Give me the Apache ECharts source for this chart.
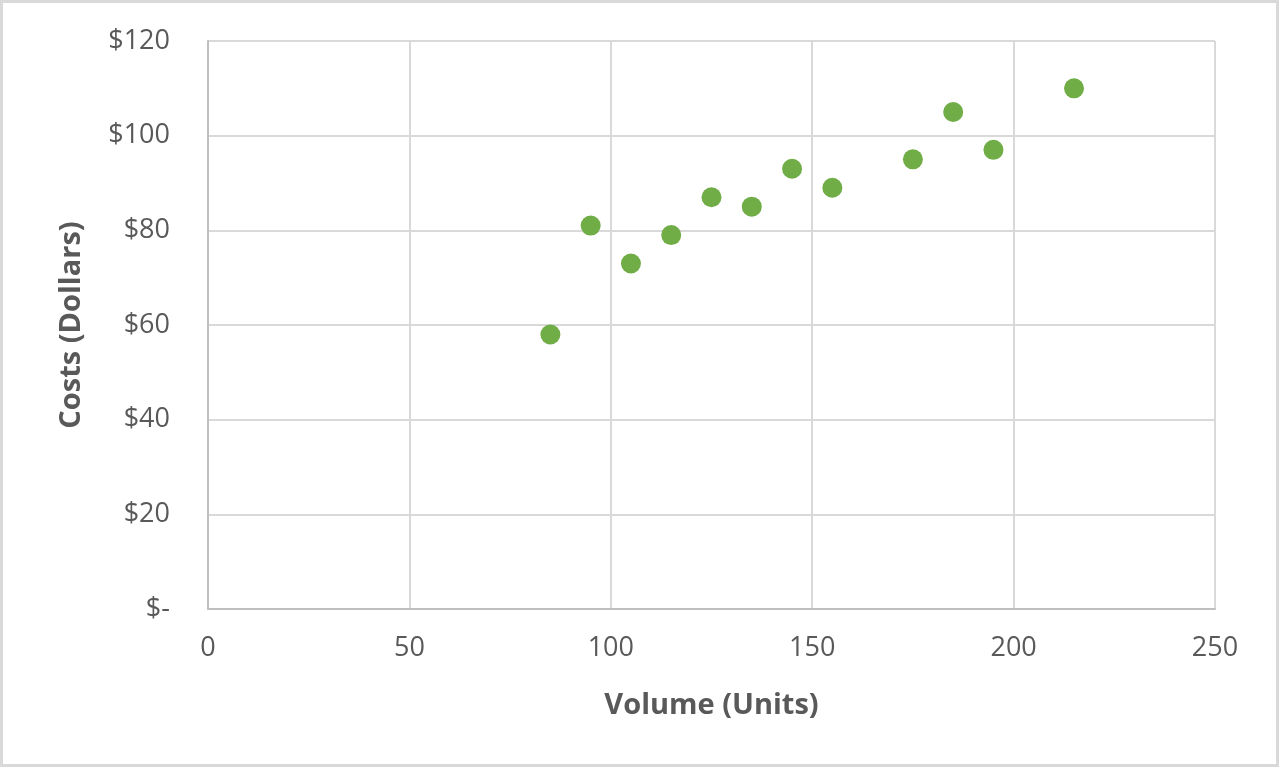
<!DOCTYPE html>
<html>
<head>
<meta charset="utf-8">
<script src="https://cdn.jsdelivr.net/npm/echarts@6/dist/echarts.min.js"></script>
<style>html,body{margin:0;padding:0;background:#fff}#c{width:1280px;height:769px}</style>
</head>
<body>
<div id="c"></div>
<script>
const volumes = [85, 95, 105, 115, 125, 135, 145, 155, 175, 185, 195, 215];
const costs = [58, 81, 73, 79, 87, 85, 93, 89, 95, 105, 97, 110];
const xTitle = 'Volume (Units)';
const yTitle = 'Costs (Dollars)';

const chart = echarts.init(document.getElementById('c'));
const txt = '#595959';
const font = '"Open Sans", sans-serif';
chart.setOption({
  animation: false,
  backgroundColor: '#fff',
  graphic: [{
    type: 'rect', silent: true,
    shape: {x: 1.5, y: 1.5, width: 1276, height: 764},
    style: {fill: 'none', stroke: '#d9d9d9', lineWidth: 3}
  }],
  grid: {left: 208, right: 65, top: 41, bottom: 160},
  xAxis: {
    type: 'value', min: 0, max: 250, interval: 50,
    name: xTitle, nameLocation: 'middle', nameGap: 82,
    nameTextStyle: {color: txt, fontFamily: font, fontSize: 29, fontWeight: 'bold'},
    axisLine: {show: true, lineStyle: {color: '#bfbfbf', width: 2}},
    axisTick: {show: false},
    axisLabel: {color: txt, fontFamily: font, fontSize: 27, margin: 26},
    splitLine: {show: true, lineStyle: {color: '#d9d9d9', width: 2}}
  },
  yAxis: {
    type: 'value', min: 0, max: 120, interval: 20,
    name: yTitle, nameLocation: 'middle', nameGap: 122, nameRotate: 90,
    nameTextStyle: {color: txt, fontFamily: font, fontSize: 29, fontWeight: 'bold'},
    axisLine: {show: true, lineStyle: {color: '#bfbfbf', width: 2}},
    axisTick: {show: false},
    axisLabel: {color: txt, fontFamily: font, fontSize: 27, margin: 38,
      formatter: v => v === 0 ? '$-' : '$' + v},
    splitLine: {show: true, lineStyle: {color: '#d9d9d9', width: 2}}
  },
  series: [{
    type: 'scatter',
    data: volumes.map((v, i) => [v, costs[i]]),
    symbol: 'circle', symbolSize: 20,
    itemStyle: {color: '#70ad47', opacity: 1}
  }]
});
</script>
</body>
</html>
